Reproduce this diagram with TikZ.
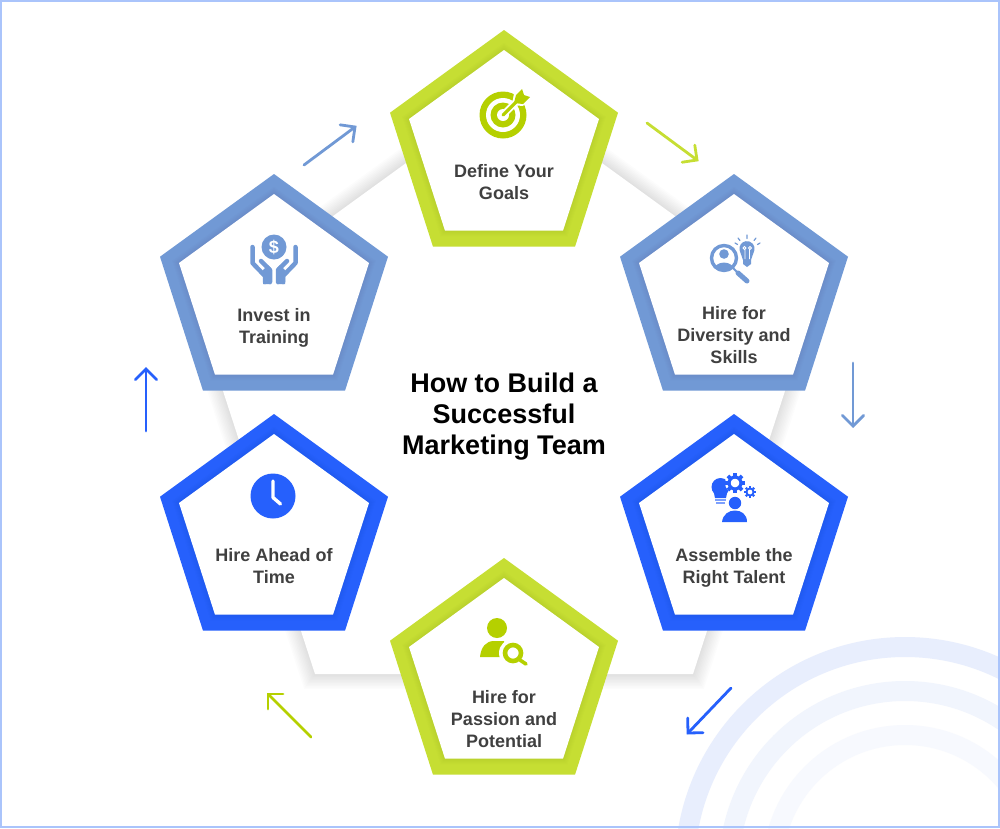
\documentclass[tikz,border=0pt]{standalone}
\usepackage{fontspec}
\setmainfont{Liberation Sans}
\usetikzlibrary{calc,positioning}

\definecolor{limeA}{HTML}{C6DE33}
\definecolor{limeB}{HTML}{B5D000}
\definecolor{steelA}{HTML}{7199D5}
\definecolor{royalA}{HTML}{2660FC}
\definecolor{inkA}{HTML}{404040}
\definecolor{edgeA}{HTML}{AAC4FB}

\tikzset{
  ring label/.style={font=\bfseries\fontsize{18}{22}\selectfont,text=inkA,align=center,inner sep=0pt},
  flow arrow/.style={line width=2.8pt,line cap=round,line join=miter},
}

% one pentagon ring, #1 #2 = apex, #3 = colour
\newcommand{\pentaring}[3]{
  \begin{scope}[shift={(#1,#2)}]
    \fill[#3] (0,0) -- (114,82.7) -- (71,216.7) -- (-71,216.7) -- (-114,82.7) -- cycle;
    \foreach \w in {2,4,...,12}
      \draw[black,opacity=0.008,line width=\w pt] (0,20) -- (95,89) -- (59,200.7) -- (-59,200.7) -- (-95,89) -- cycle;
    \fill[white] (0,20) -- (95,89) -- (59,200.7) -- (-59,200.7) -- (-95,89) -- cycle;
  \end{scope}
}
% small gear, #1 #2 = centre, #3 = radius
\newcommand{\gearicon}[3]{
  \draw[royalA,line width=0.45*#3 pt] (#1,#2) circle (0.85*#3);
  \foreach \a in {0,45,...,315}
    \draw[royalA,line width=0.55*#3 pt] (#1,#2) ++(\a:#3) -- ++(\a:0.42*#3);
}
% arrow with open head, #1 = colour, #2 = from, #3 = to
\newcommand{\flowarrow}[3]{
  \draw[flow arrow,#1] (#2) -- (#3);
  \draw[flow arrow,#1] ($(#3)!15pt!45:(#2)$) -- (#3) -- ($(#3)!15pt!-45:(#2)$);
}

\begin{document}
\begin{tikzpicture}[x=1pt,y=-1pt]
  \useasboundingbox (0,0) rectangle (1000,828);
  \fill[white] (0,0) rectangle (1000,828);

  % arcs in the corner
  \begin{scope}
    \clip (0,0) rectangle (1000,828);
    \draw[line width=20pt,color={rgb,255:red,232;green,238;blue,253}] (905,867) circle (220);
    \draw[line width=20pt,color={rgb,255:red,241;green,245;blue,253}] (905,867) circle (176);
    \draw[line width=20pt,color={rgb,255:red,247;green,249;blue,254}] (905,867) circle (132);
  \end{scope}
  \draw[edgeA,line width=2pt] (1,1) rectangle (999,827);

  % big pentagon behind
  \foreach \w in {3,6,...,30}
    \draw[black,opacity=0.011,line width=\w pt] (504,92) -- (810,314) -- (693,674) -- (315,674) -- (198,314) -- cycle;
  \fill[white] (504,92) -- (810,314) -- (693,674) -- (315,674) -- (198,314) -- cycle;

  \pentaring{504}{30}{limeA}
  \pentaring{734}{174}{steelA}
  \pentaring{734}{414}{royalA}
  \pentaring{504}{558}{limeA}
  \pentaring{274}{414}{royalA}
  \pentaring{274}{174}{steelA}

  \node[font=\bfseries\fontsize{27}{31}\selectfont,align=center,inner sep=0pt] (title) at (504,417) {How to Build a\\Successful\\Marketing Team};
  \node[ring label] (goals) at (504,182) {Define Your\\Goals};
  \node[ring label] (diversity) at (734,335) {Hire for\\Diversity and\\Skills};
  \node[ring label] (talent) at (734,568) {Assemble the\\Right Talent};
  \node[ring label] (passion) at (504,719) {Hire for\\Passion and\\Potential};
  \node[ring label] (ahead) at (274,566) {Hire Ahead of\\Time};
  \node[ring label] (training) at (274,328) {Invest in\\Training};

  % arrows
  \coordinate (a1) at (647,123); \coordinate (b1) at (697,160);
  \coordinate (a2) at (853,363); \coordinate (b2) at (853,426);
  \coordinate (a3) at (731,688); \coordinate (b3) at (688,733);
  \coordinate (a4) at (311,737); \coordinate (b4) at (268,694);
  \coordinate (a5) at (146,431); \coordinate (b5) at (146,369);
  \coordinate (a6) at (304,165); \coordinate (b6) at (355,127);
  \flowarrow{limeA}{a1}{b1}
  \flowarrow{steelA}{a2}{b2}
  \flowarrow{royalA}{a3}{b3}
  \flowarrow{limeB}{a4}{b4}
  \flowarrow{royalA}{a5}{b5}
  \flowarrow{steelA}{a6}{b6}

  % target
  \fill[limeB] (503,115) circle (23.5);
  \fill[white] (503,115) circle (17);
  \fill[limeB] (503,115) circle (12.5);
  \fill[white] (503,115) circle (6);
  \draw[white,line width=7pt] (503,115) -- (517,101);
  \fill[white] (514,93) -- (523,86) -- (526,93) -- (533,95) -- (523,106) -- (512,105) -- cycle;
  \draw[limeB,line width=3.2pt,line cap=round] (503,115) -- (519,99);
  \fill[limeB] (516,95) -- (522,89) -- (524,95) -- (530,97) -- (523,104) -- (514,103) -- cycle;

  % search and bulb
  \begin{scope}
    \clip (724,258) circle (12);
    \fill[steelA] (724,271) ellipse (10.5 and 8.5);
  \end{scope}
  \fill[steelA] (724,254) circle (4.8);
  \draw[steelA,line width=3.4pt] (724,258) circle (12.5);
  \draw[steelA,line width=5pt,line cap=round] (738,273) -- (747,281);
  \draw[steelA,line width=2pt] (733,268) -- (739,274);
  \fill[steelA] (739.5,250) arc[start angle=170,end angle=370,radius=7.6] -- (751,260) -- (751,264) -- (747,267) -- (743,264) -- (743,260) -- cycle;
  \draw[white,line width=0.9pt] (744.5,248) circle (1.5) (750,248) circle (1.5) (745,249.5) -- (745,259) (749.5,249.5) -- (749.5,259);
  \draw[steelA,line width=1.2pt,line cap=round] (747,235) -- (747,238.5) (738,238) -- (740,240.5) (756,238) -- (754,240.5) (735,243) -- (737.5,244.5) (760,243) -- (757.5,244.5);

  % bulb, gears and person
  \fill[royalA] (720.5,487) circle (9);
  \fill[royalA] (713.5,491) -- (727.5,491) -- (726,498) -- (715,498) -- cycle;
  \draw[royalA!60,line width=1.4pt] (715,500) -- (726,500) (716,503) -- (725,503);
  \fill[white] (735,483) circle (10);
  \gearicon{735}{483}{7}
  \gearicon{750}{492}{4.2}
  \fill[royalA] (735,503) circle (6.2);
  \fill[royalA] (722,522) .. controls (723,514) and (729,510.5) .. (735,510.5) .. controls (741,510.5) and (747,514) .. (747,522) -- cycle;

  % person and lens
  \fill[limeB] (497,628) circle (10);
  \fill[limeB] (480,657) .. controls (481,647) and (486,641) .. (494,641) -- (504,641) -- (504,657) -- cycle;
  \fill[white] (513,653) circle (14);
  \draw[limeB,line width=4.6pt] (513,653) circle (8);
  \draw[limeB,line width=3.6pt,line cap=round] (520,660) -- (526,664);

  % coin and hands
  \fill[steelA] (274,247) circle (12.5);
  \node[font=\bfseries\fontsize{18}{18}\selectfont,text=white,inner sep=0pt] (coin) at (274,247) {\$};
  \foreach \s in {-1,1}{
    \draw[steelA,line width=4.5pt,line cap=round,line join=round] (274+\s*21.5,247) -- (274+\s*21.5,263) -- (274+\s*9,276) -- (274+\s*9,282);
    \draw[steelA,line width=4.5pt,line cap=round,line join=round] (274+\s*13,261) -- (274+\s*4,270) -- (274+\s*4,282);
    \fill[steelA] (274+\s*11,270) -- (274+\s*6,265) -- (274+\s*3,268) -- (274+\s*3,284) -- (274+\s*11,284) -- cycle;
  }

  % clock
  \fill[royalA] (273,496) circle (22.5);
  \draw[white,line width=3.4pt,line cap=round,line join=round] (273,481) -- (273,497.5) -- (280.5,504);
\end{tikzpicture}
\end{document}
